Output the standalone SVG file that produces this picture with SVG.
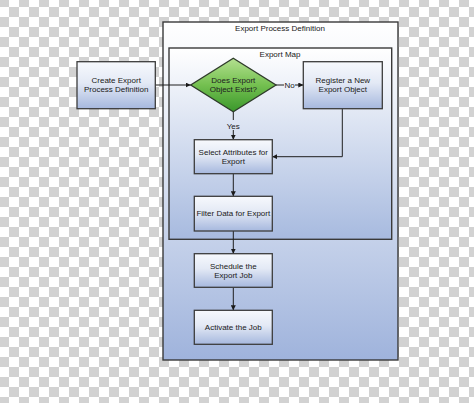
<svg xmlns="http://www.w3.org/2000/svg" width="474" height="403" viewBox="0 0 474 403">
<defs>
<pattern id="checker" x="-1" y="-3" width="20" height="20" patternUnits="userSpaceOnUse">
<rect width="20" height="20" fill="#ffffff"/>
<rect width="10" height="10" fill="#d2d2d2"/>
<rect x="10" y="10" width="10" height="10" fill="#d2d2d2"/>
</pattern>
<linearGradient id="gCont" x1="0" y1="0" x2="0" y2="1">
<stop offset="0" stop-color="#ffffff"/>
<stop offset="0.35" stop-color="#e4eaf5"/>
<stop offset="1" stop-color="#9fb3dc"/>
</linearGradient>
<linearGradient id="gMap" x1="0" y1="0" x2="0" y2="1">
<stop offset="0" stop-color="#ffffff"/>
<stop offset="1" stop-color="#a7badf"/>
</linearGradient>
<linearGradient id="gBox" x1="0" y1="0" x2="0" y2="1">
<stop offset="0" stop-color="#f7f9fd"/>
<stop offset="0.45" stop-color="#e3e9f5"/>
<stop offset="1" stop-color="#a6b8de"/>
</linearGradient>
<linearGradient id="gDia" x1="0" y1="0" x2="0" y2="1">
<stop offset="0" stop-color="#b4e090"/>
<stop offset="0.5" stop-color="#74c050"/>
<stop offset="1" stop-color="#3a982c"/>
</linearGradient>
<marker id="arr" viewBox="0 0 10 10" refX="10" refY="5" markerWidth="5" markerHeight="5" orient="auto" markerUnits="userSpaceOnUse">
<path d="M0,0 L10,5 L0,10 z" fill="#1a1a1a"/>
</marker>
</defs>
<style>
text{font-family:"Liberation Sans",Arial,sans-serif;font-size:8px;fill:#202020;text-anchor:middle;}
.box{fill:url(#gBox);stroke:#3c3c3c;stroke-width:1.3;}
.cont{stroke:#3a3a3a;stroke-width:1.4;}
.conn{fill:none;stroke:#1f1f1f;stroke-width:1;}
</style>
<rect width="474" height="403" fill="url(#checker)"/>

<g id="export-process-definition">
<rect class="cont" x="163" y="22" width="235" height="338" fill="url(#gCont)"/>
<text x="280" y="31">Export Process Definition</text>
</g>
<g id="export-map">
<rect class="cont" x="169" y="48" width="222.7" height="191.3" fill="url(#gMap)"/>
<text x="280" y="57">Export Map</text>
</g>

<g id="connectors">
<line class="conn" x1="155.3" y1="85" x2="190.7" y2="85" marker-end="url(#arr)"/>
<line class="conn" x1="276" y1="85" x2="284" y2="85"/>
<line class="conn" x1="295" y1="85" x2="303.3" y2="85" marker-end="url(#arr)"/>
<line class="conn" x1="233.3" y1="111.7" x2="233.3" y2="120"/>
<line class="conn" x1="233.3" y1="130" x2="233.3" y2="139.7" marker-end="url(#arr)"/>
<polyline class="conn" points="342.3,108.7 342.3,156.7 272.3,156.7" marker-end="url(#arr)"/>
<line class="conn" x1="233.3" y1="173.7" x2="233.3" y2="196.3" marker-end="url(#arr)"/>
<line class="conn" x1="233.3" y1="231" x2="233.3" y2="253.7" marker-end="url(#arr)"/>
<line class="conn" x1="233.3" y1="287.3" x2="233.3" y2="310.3" marker-end="url(#arr)"/>
<text x="289.5" y="88">No</text>
<text x="233.3" y="128.5">Yes</text>
</g>

<g id="create-export-process-definition">
<rect class="box" x="77" y="61.7" width="78.3" height="47"/>
<text x="116.2" y="82.5">Create Export</text>
<text x="116.2" y="91.5">Process Definition</text>
</g>

<g id="does-export-object-exist">
<polygon points="233.3,58.3 276,85 233.3,111.7 190.7,85" fill="url(#gDia)" stroke="#2e3a2a" stroke-width="1.3"/>
<text x="233.3" y="82.5">Does Export</text>
<text x="233.3" y="91.5">Object Exist?</text>
</g>

<g id="register-new-export-object">
<rect class="box" x="303.3" y="61.7" width="79" height="47"/>
<text x="342.8" y="82.5">Register a New</text>
<text x="342.8" y="91.5">Export Object</text>
</g>

<g id="select-attributes">
<rect class="box" x="194.3" y="139.7" width="78" height="34"/>
<text x="233.3" y="154.5">Select Attributes for</text>
<text x="233.3" y="163.5">Export</text>
</g>

<g id="filter-data">
<rect class="box" x="194.3" y="196.3" width="78" height="34.7"/>
<text x="233.3" y="216">Filter Data for Export</text>
</g>

<g id="schedule-export-job">
<rect class="box" x="194.3" y="253.7" width="78" height="33.6"/>
<text x="233.3" y="268.5">Schedule the</text>
<text x="233.3" y="277.5">Export Job</text>
</g>

<g id="activate-job">
<rect class="box" x="194.3" y="310.3" width="78" height="34"/>
<text x="233.3" y="329.5">Activate the Job</text>
</g>
</svg>
